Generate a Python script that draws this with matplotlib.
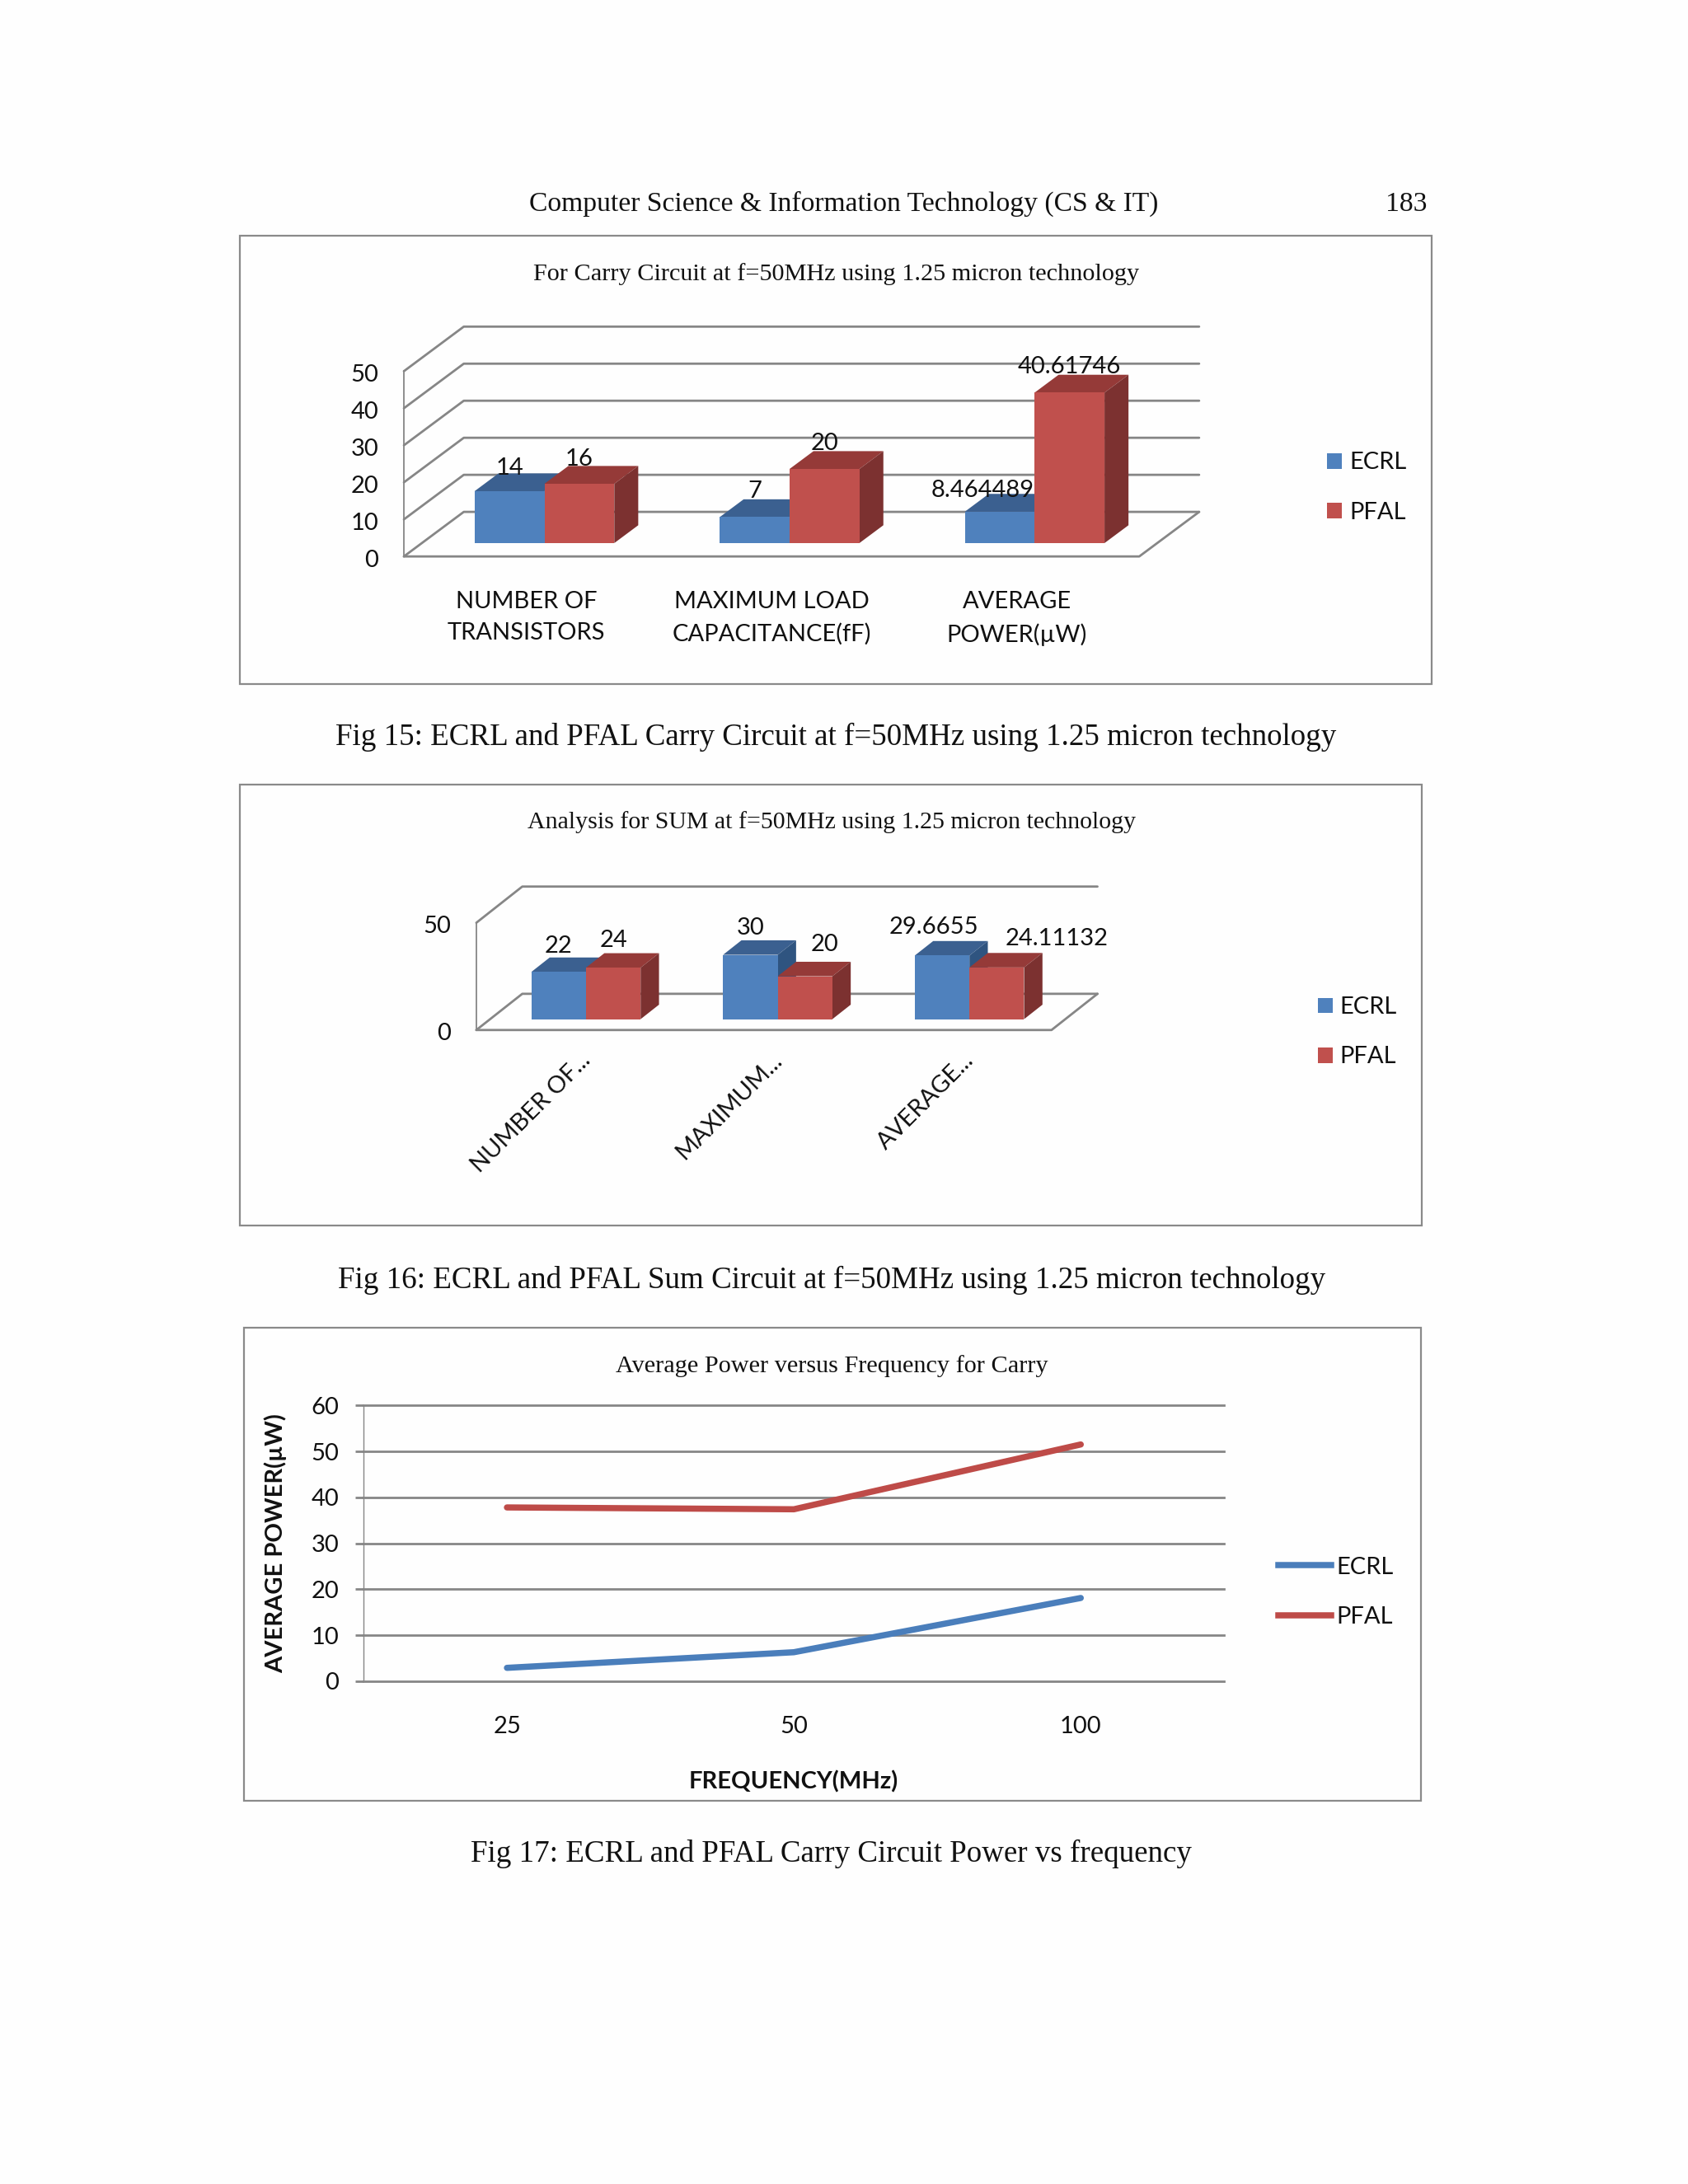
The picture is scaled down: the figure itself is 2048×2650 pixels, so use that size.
import matplotlib
matplotlib.use("Agg")
import matplotlib.pyplot as plt
from matplotlib.patches import Polygon, Rectangle, Patch
from matplotlib.lines import Line2D
from matplotlib.transforms import ScaledTranslation

# ---------- data ----------
series_names = ["ECRL", "PFAL"]

carry_categories = ["NUMBER OF\nTRANSISTORS", "MAXIMUM LOAD\nCAPACITANCE(fF)", "AVERAGE\nPOWER(µW)"]
carry_ecrl = [14, 7, 8.464489]
carry_pfal = [16, 20, 40.61746]
carry_ecrl_text = ["14", "7", "8.464489"]
carry_pfal_text = ["16", "20", "40.61746"]
carry_ticks = [0, 10, 20, 30, 40, 50]

sum_categories = ["NUMBER OF...", "MAXIMUM...", "AVERAGE..."]
sum_ecrl = [22, 30, 29.6655]
sum_pfal = [24, 20, 24.11132]
sum_ecrl_text = ["22", "30", "29.6655"]
sum_pfal_text = ["24", "20", "24.11132"]
sum_ticks = [0, 50]

freq_labels = ["25", "50", "100"]
freq_ecrl = [2.9, 6.3, 18.1]
freq_pfal = [37.8, 37.4, 51.5]
freq_ticks = [0, 10, 20, 30, 40, 50, 60]

# ---------- layout helpers ----------
WD, HD = 1212.0, 1568.0   # layout units used for placing things on the page
SERIF = "Liberation Serif"
SANS = "Lato"
FS = 21
GRID = "#868686"
BLUE, BLUE_TOP, BLUE_SIDE = "#4F81BD", "#3B6090", "#2F5480"
RED, RED_TOP, RED_SIDE = "#C0504D", "#953A38", "#7C3130"
INK = "#111111"

fig = plt.figure(figsize=(20.48, 26.5), dpi=100, facecolor="#FEFEFE")


def fx(d):
    return d / WD


def fy(d):
    return 1 - d / HD


def page_text(x, y, s, size, family=SERIF, ha="center", **kw):
    fig.text(fx(x), fy(y), s, fontsize=size, family=family, ha=ha, va="center", color=INK, **kw)


def box(l, t, r, b):
    fig.add_artist(Rectangle((fx(l), fy(b)), fx(r) - fx(l), fy(t) - fy(b), transform=fig.transFigure,
                             fill=False, ec="#8A8A8A", lw=1.6))


def make_axes(l, t, r, b):
    return fig.add_axes([fx(l), fy(b), fx(r) - fx(l), fy(t) - fy(b)], facecolor="none")


def legend(ax, handles, x, y, **kw):
    ax.legend(handles, series_names, loc="center left", bbox_to_anchor=(fx(x), fy(y)),
              bbox_transform=fig.transFigure, frameon=False, borderpad=0, borderaxespad=0,
              prop={"family": SANS, "size": FS}, labelcolor=INK, **kw)


def nudge(labels, dx_in, dy_in):
    for lab in labels:
        lab.set_transform(lab.get_transform() + ScaledTranslation(dx_in, dy_in, fig.dpi_scale_trans))


def bars3d(ax, l, t, r, b, ymax, cats, ecrl, pfal, etext, ptext, ticks, depth, eoff, poff, width=0.285):
    """Excel-like 3D column chart; the axes is the front plane of the floor/wall box.
    eoff/poff hold each value label's (x, y) nudge in page units."""
    n = len(cats)
    ux = (r - l) / n
    uy = (b - t) / ymax
    ax.set_xlim(-0.5, n - 0.5)
    ax.set_ylim(0, ymax)
    dx, dy = depth[0] / ux, depth[1] / uy
    x0, x1 = -0.5, n - 0.5
    kw = dict(color=GRID, lw=2.0, clip_on=False, zorder=1, solid_capstyle="round")
    ax.plot([x0, x0], [0, ymax], color=GRID, lw=1.3, clip_on=False, zorder=1)
    for v in ticks:
        ax.plot([x0, x0 + dx, x1 + dx], [v, v + dy, v + dy], **kw)
    ax.plot([x0, x1, x1 + dx], [0, 0, dy], **kw)
    # bars sit 30 % of the way into the box and are 40 % of its depth deep
    bx, by = 0.30 * dx, 0.30 * dy
    sx, sy = 0.40 * dx, 0.40 * dy
    for k, (vals, cf, ct, cs) in enumerate([(ecrl, BLUE, BLUE_TOP, BLUE_SIDE), (pfal, RED, RED_TOP, RED_SIDE)]):
        for i, v in enumerate(vals):
            xl = i + bx + (k - 1) * width
            xr = xl + width
            yb, yt = by, by + v
            ax.add_patch(Polygon([(xl, yt), (xr, yt), (xr + sx, yt + sy), (xl + sx, yt + sy)],
                                 fc=ct, ec="none", zorder=3 + k, clip_on=False))
            ax.add_patch(Polygon([(xr, yb), (xr + sx, yb + sy), (xr + sx, yt + sy), (xr, yt)],
                                 fc=cs, ec="none", zorder=3 + k, clip_on=False))
            ax.bar(xl, v, width=width, bottom=yb, align="edge", color=cf, zorder=3 + k, clip_on=False)
    # value labels
    for k, (vals, texts, offs) in enumerate([(ecrl, etext, eoff), (pfal, ptext, poff)]):
        for i, (v, s, o) in enumerate(zip(vals, texts, offs)):
            xc = i + bx + (k - 0.5) * width + o[0] / ux
            ax.annotate(s, (xc, by + v), xytext=(0, (20.5 + o[1]) * 1.6926 * 0.72), textcoords="offset points",
                        ha="center", va="center", family=SANS, fontsize=FS, color=INK,
                        annotation_clip=False, zorder=8)
    ax.set_yticks(ticks)
    ax.set_xticks(range(n))
    for s in ax.spines.values():
        s.set_visible(False)
    ax.tick_params(axis="both", length=0, labelcolor=INK)
    ax.tick_params(axis="y", pad=22)
    for lab in ax.get_yticklabels():
        lab.set_family(SANS)
        lab.set_fontsize(FS)
    nudge(ax.get_yticklabels(), 0, -0.02)


# ---------- page text ----------
page_text(606, 146.5, "Computer Science & Information Technology (CS & IT)", 24.2)
page_text(1010, 146.5, "183", 24.2)
page_text(600, 529, "Fig 15: ECRL and PFAL Carry Circuit at f=50MHz using 1.25 micron technology", 26.65)
page_text(597, 919, "Fig 16: ECRL and PFAL Sum Circuit at f=50MHz using 1.25 micron technology", 26.65)
page_text(597, 1331, "Fig 17: ECRL and PFAL Carry Circuit Power vs frequency", 26.65)

# ---------- panel 1 ----------
box(172, 169, 1028, 491)
page_text(600.5, 196.5, "For Carry Circuit at f=50MHz using 1.25 micron technology", 21.75)
ax1 = make_axes(290, 266.5, 818, 399.5)
bars3d(ax1, 290, 266.5, 818, 399.5, 50, carry_categories, carry_ecrl, carry_pfal,
       carry_ecrl_text, carry_pfal_text, carry_ticks, (43, 32),
       [(0, -4), (0, -2), (-12, -5)], [(0, -3), (0, -2), (0, -2)])
ax1.set_xticklabels(carry_categories, family=SANS, fontsize=FS, linespacing=1.6)
ax1.tick_params(axis="x", pad=30)
h = [Patch(fc=BLUE), Patch(fc=RED)]
legend(ax1, h, 953, 350, handlelength=0.62, handleheight=0.62, handletextpad=0.3, labelspacing=1.17)

# ---------- panel 2 ----------
box(172, 563.5, 1021, 880)
page_text(597, 590.5, "Analysis for SUM at f=50MHz using 1.25 micron technology", 21.5)
ax2 = make_axes(342, 662.5, 755, 739.5)
bars3d(ax2, 342, 662.5, 755, 739.5, 50, sum_categories, sum_ecrl, sum_pfal,
       sum_ecrl_text, sum_pfal_text, sum_ticks, (33, 26),
       [(0, -2), (0, -1), (-6, 0)], [(0, -1), (14, 2), (43, 0)])
ax2.set_xticklabels(sum_categories, family=SANS, fontsize=FS, rotation=45, ha="right",
                    rotation_mode="anchor", va="top")
ax2.tick_params(axis="x", pad=17)
nudge(ax2.get_xticklabels(), 0.09, 0)
h = [Patch(fc=BLUE), Patch(fc=RED)]
legend(ax2, h, 946, 741, handlelength=0.62, handleheight=0.62, handletextpad=0.3, labelspacing=1.17)

# ---------- panel 3 ----------
box(175, 953.5, 1020, 1293)
page_text(597.5, 980.5, "Average Power versus Frequency for Carry", 21.75)
ax3 = make_axes(261, 1009, 879, 1207)
xs = range(len(freq_labels))
l1, = ax3.plot(xs, freq_ecrl, color="#4A7EBB", lw=5.4, solid_capstyle="round", zorder=4, label="ECRL")
l2, = ax3.plot(xs, freq_pfal, color="#BE4B48", lw=5.4, solid_capstyle="round", zorder=4, label="PFAL")
ax3.set_xlim(-0.5, 2.5)
ax3.set_ylim(0, 60)
ax3.set_yticks(freq_ticks)
ax3.set_xticks(list(xs))
ax3.set_xticklabels(freq_labels, family=SANS, fontsize=FS)
for lab in ax3.get_yticklabels():
    lab.set_family(SANS)
    lab.set_fontsize(FS)
ax3.grid(axis="y", color=GRID, lw=2.0, zorder=1)
for name, s in ax3.spines.items():
    s.set_visible(name == "left")
    s.set_color(GRID)
    s.set_linewidth(1.0)
for g in ax3.get_ygridlines():
    g.set_clip_on(False)
ax3.tick_params(axis="y", length=7.5, width=2.0, color=GRID, pad=14, labelcolor=INK)
ax3.tick_params(axis="x", length=0, pad=30, labelcolor=INK)
ax3.set_xlabel("FREQUENCY(MHz)", family=SANS, fontsize=FS, fontweight="bold", color=INK)
ax3.xaxis.set_label_coords(fx(570), fy(1271), transform=fig.transFigure)
ax3.set_ylabel("AVERAGE POWER(µW)", family=SANS, fontsize=FS, fontweight="bold", color=INK)
ax3.yaxis.set_label_coords(fx(206), fy(1108), transform=fig.transFigure)
legend(ax3, [Line2D([], [], color="#4A7EBB", lw=5.4), Line2D([], [], color="#BE4B48", lw=5.4)],
       918, 1143, handlelength=2.2, handletextpad=0.2, labelspacing=1.17)

fig.savefig("out.png", dpi=100, facecolor=fig.get_facecolor())
